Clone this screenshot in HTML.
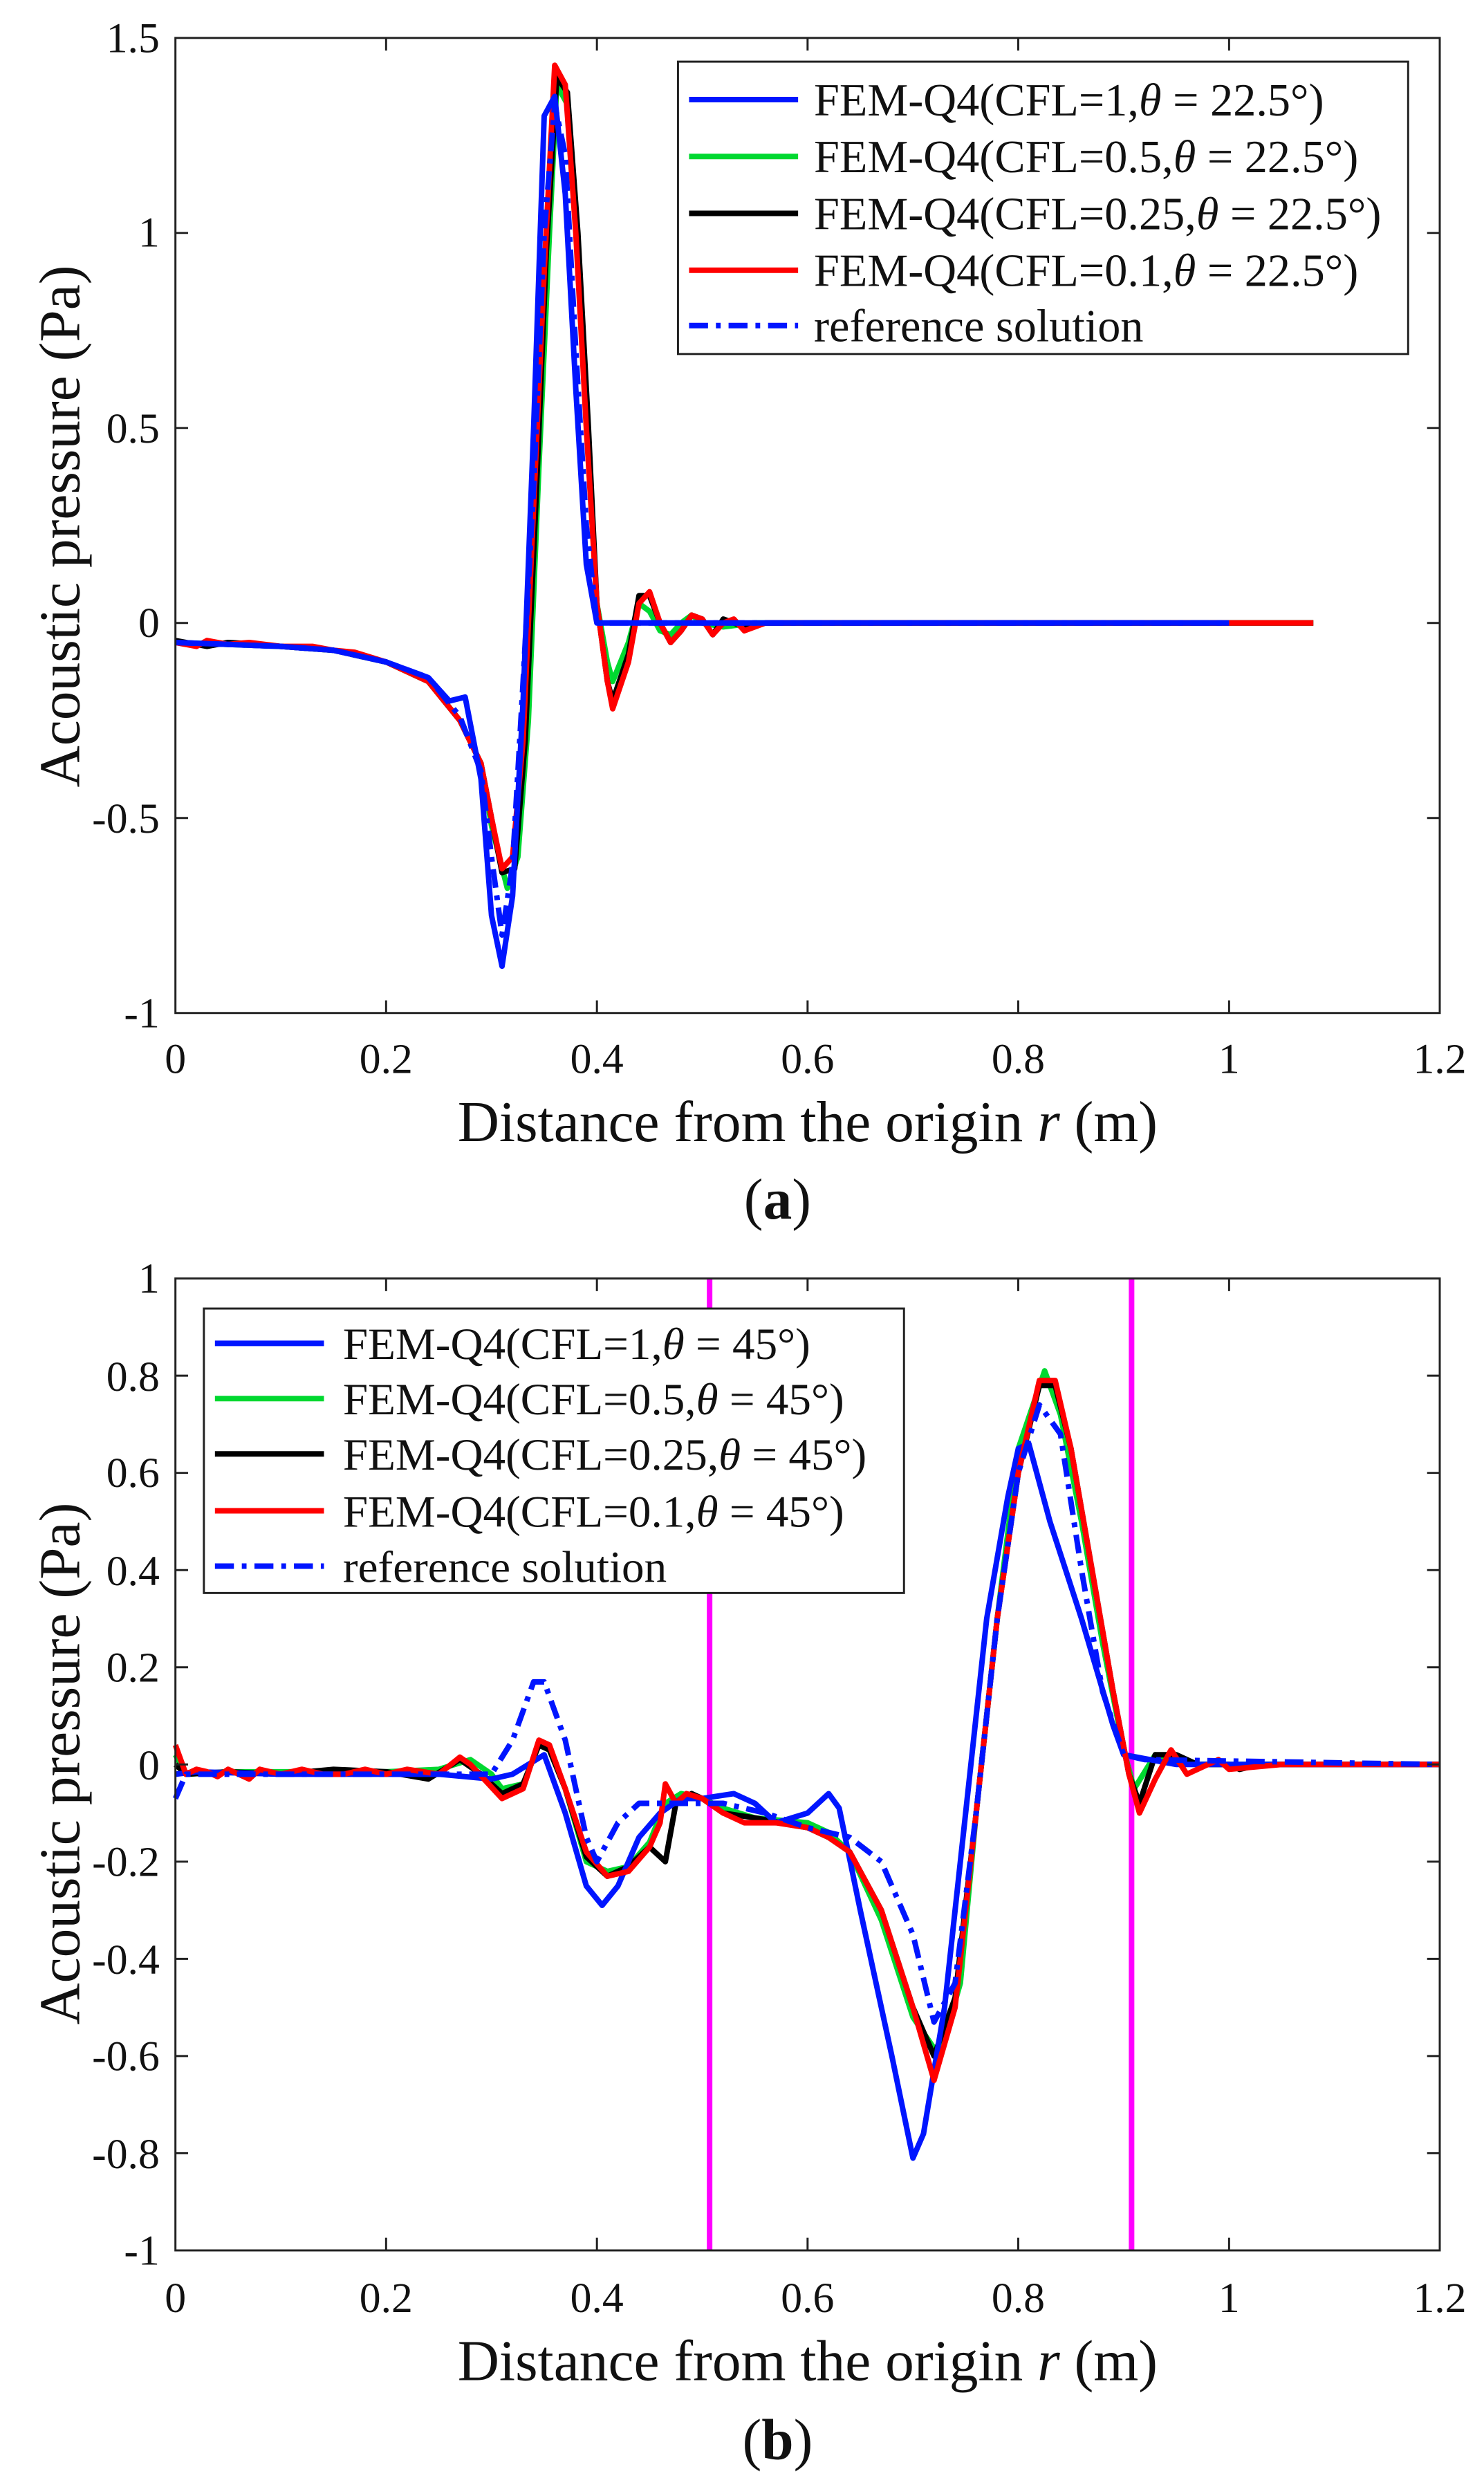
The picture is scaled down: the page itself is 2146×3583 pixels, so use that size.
<!DOCTYPE html>
<html><head><meta charset="utf-8"><style>html,body{margin:0;padding:0;background:#fff}svg{display:block}text{font-family:"Liberation Serif","DejaVu Serif",serif;fill:#111}</style></head>
<body>
<svg width="2146" height="3583" viewBox="0 0 939 1568" preserveAspectRatio="none" xmlns="http://www.w3.org/2000/svg">
<rect width="939" height="1568" fill="#fff"/>
<!-- ============ PLOT A ============ -->
<g fill="none" stroke-linejoin="round" stroke-linecap="butt">
<g transform="translate(111,394.2) scale(666.667,-246.8)">
<polyline vector-effect="non-scaling-stroke" stroke="#00d830" stroke-width="8" points="0,-0.05 0.05,-0.055 0.1,-0.06 0.15,-0.07 0.2,-0.1 0.24,-0.15 0.27,-0.25 0.29,-0.36 0.3,-0.52 0.315,-0.68 0.325,-0.6 0.335,-0.25 0.345,0.4 0.355,1.0 0.362,1.38 0.372,1.33 0.382,0.95 0.392,0.45 0.4,0.05 0.41,-0.1 0.415,-0.15 0.43,-0.05 0.44,0.05 0.45,0.03 0.46,-0.02 0.47,-0.03 0.48,0 0.49,0.02 0.5,0 0.52,-0.01 0.55,0 0.6,0 1.08,0"/>
<polyline vector-effect="non-scaling-stroke" stroke="#000" stroke-width="8" points="0,-0.045 0.03,-0.06 0.05,-0.05 0.08,-0.055 0.1,-0.06 0.15,-0.07 0.2,-0.1 0.24,-0.15 0.27,-0.25 0.29,-0.36 0.3,-0.5 0.31,-0.64 0.322,-0.63 0.332,-0.3 0.342,0.3 0.352,0.95 0.362,1.4 0.372,1.36 0.382,1.0 0.392,0.5 0.4,0.05 0.41,-0.15 0.415,-0.2 0.43,-0.08 0.44,0.07 0.45,0.07 0.46,0 0.47,-0.05 0.48,-0.02 0.49,0.02 0.5,0.01 0.51,-0.03 0.52,0.01 0.54,-0.01 0.56,0 0.6,0 1.08,0"/>
<polyline vector-effect="non-scaling-stroke" stroke="#f00" stroke-width="8" points="0,-0.05 0.02,-0.06 0.03,-0.045 0.05,-0.055 0.07,-0.05 0.1,-0.06 0.13,-0.06 0.15,-0.07 0.17,-0.075 0.2,-0.1 0.24,-0.15 0.27,-0.25 0.29,-0.36 0.3,-0.5 0.31,-0.63 0.32,-0.6 0.33,-0.3 0.34,0.3 0.35,0.9 0.36,1.43 0.37,1.38 0.38,1.0 0.39,0.5 0.4,0.05 0.41,-0.15 0.415,-0.22 0.43,-0.1 0.44,0.05 0.45,0.08 0.46,0 0.47,-0.05 0.48,-0.02 0.49,0.02 0.5,0.01 0.51,-0.03 0.52,0 0.53,0.01 0.54,-0.02 0.56,0 0.58,0 1.08,0"/>
<polyline vector-effect="non-scaling-stroke" stroke="#0015ff" stroke-width="8" points="0,-0.05 0.05,-0.055 0.1,-0.06 0.15,-0.07 0.2,-0.1 0.24,-0.14 0.26,-0.2 0.275,-0.19 0.29,-0.4 0.3,-0.75 0.31,-0.88 0.32,-0.7 0.33,-0.2 0.34,0.5 0.35,1.3 0.36,1.35 0.37,1.1 0.38,0.6 0.39,0.15 0.4,0 1.0,0"/>
<polyline vector-effect="non-scaling-stroke" stroke="#0015ff" stroke-width="8" stroke-dasharray="27,11,7,11" points="0,-0.05 0.05,-0.055 0.1,-0.06 0.15,-0.07 0.2,-0.1 0.24,-0.14 0.27,-0.24 0.29,-0.38 0.3,-0.6 0.31,-0.8 0.32,-0.62 0.33,-0.15 0.34,0.35 0.35,1.0 0.36,1.33 0.37,1.2 0.38,0.7 0.39,0.25 0.4,0 1.0,0"/>
</g>
</g>
<!-- axes A -->
<g stroke="#222" stroke-width="1.3" fill="none">
<rect x="111" y="24" width="800" height="617"/>
<path d="M244.3,641v-8M377.7,641v-8M511,641v-8M644.3,641v-8M777.7,641v-8M244.3,24v8M377.7,24v8M511,24v8M644.3,24v8M777.7,24v8
M111,147.4h8M111,270.8h8M111,394.2h8M111,517.6h8M911,147.4h-8M911,270.8h-8M911,394.2h-8M911,517.6h-8"/>
</g>
<g font-size="27" text-anchor="end">
<text x="101" y="33">1.5</text><text x="101" y="156">1</text><text x="101" y="280">0.5</text><text x="101" y="403">0</text><text x="101" y="527">-0.5</text><text x="101" y="650">-1</text>
</g>
<g font-size="27" text-anchor="middle">
<text x="111" y="679">0</text><text x="244.3" y="679">0.2</text><text x="377.7" y="679">0.4</text><text x="511" y="679">0.6</text><text x="644.3" y="679">0.8</text><text x="777.7" y="679">1</text><text x="911" y="679">1.2</text>
</g>
<text x="511" y="722" font-size="36.5" text-anchor="middle">Distance from the origin <tspan font-style="italic">r</tspan> (m)</text>
<text x="492" y="771" font-size="36.5" text-anchor="middle">(<tspan font-weight="bold">a</tspan>)</text>
<text transform="translate(50,333) rotate(-90)" font-size="36.5" text-anchor="middle">Acoustic pressure (Pa)</text>
<!-- legend A -->
<rect x="429" y="39" width="462" height="185" fill="#fff" stroke="#222" stroke-width="1.3"/>
<g stroke-width="3.5">
<line x1="436" y1="63" x2="505" y2="63" stroke="#0015ff"/>
<line x1="436" y1="99" x2="505" y2="99" stroke="#00d830"/>
<line x1="436" y1="135" x2="505" y2="135" stroke="#000"/>
<line x1="436" y1="171" x2="505" y2="171" stroke="#f00"/>
<line x1="436" y1="206" x2="505" y2="206" stroke="#0015ff" stroke-dasharray="12,5,3,5"/>
</g>
<g font-size="29">
<text x="515" y="73">FEM-Q4(CFL=1,<tspan font-style="italic">θ</tspan> = 22.5°)</text>
<text x="515" y="109">FEM-Q4(CFL=0.5,<tspan font-style="italic">θ</tspan> = 22.5°)</text>
<text x="515" y="145">FEM-Q4(CFL=0.25,<tspan font-style="italic">θ</tspan> = 22.5°)</text>
<text x="515" y="181">FEM-Q4(CFL=0.1,<tspan font-style="italic">θ</tspan> = 22.5°)</text>
<text x="515" y="216">reference solution</text>
</g>

<!-- ============ PLOT B ============ -->
<g fill="none" stroke-linejoin="round">
<line x1="449" y1="809" x2="449" y2="1424" stroke="#ff00ff" stroke-width="3.5"/>
<line x1="716" y1="809" x2="716" y2="1424" stroke="#ff00ff" stroke-width="3.5"/>
<g transform="translate(111,1116.5) scale(666.667,-307.5)">
<polyline vector-effect="non-scaling-stroke" stroke="#00d830" stroke-width="8" points="0,0.02 0.01,-0.02 0.05,-0.015 0.1,-0.015 0.2,-0.015 0.25,-0.01 0.28,0.01 0.3,-0.02 0.31,-0.05 0.33,-0.04 0.345,0.04 0.355,0.03 0.37,-0.05 0.39,-0.2 0.41,-0.22 0.43,-0.21 0.45,-0.16 0.465,-0.08 0.48,-0.06 0.5,-0.07 0.52,-0.09 0.55,-0.11 0.6,-0.12 0.62,-0.14 0.64,-0.18 0.67,-0.32 0.7,-0.52 0.725,-0.6 0.745,-0.45 0.76,-0.1 0.78,0.3 0.8,0.65 0.825,0.81 0.84,0.72 0.86,0.5 0.88,0.25 0.9,0.03 0.91,-0.05 0.93,0.02 0.95,0.01 0.97,0 1.2,0"/>
<polyline vector-effect="non-scaling-stroke" stroke="#000" stroke-width="8" points="0,0 0.01,-0.02 0.05,-0.015 0.1,-0.02 0.15,-0.01 0.2,-0.015 0.24,-0.03 0.27,0.01 0.29,-0.02 0.31,-0.06 0.33,-0.04 0.345,0.04 0.355,0.03 0.37,-0.05 0.39,-0.19 0.41,-0.23 0.43,-0.21 0.45,-0.17 0.465,-0.2 0.475,-0.08 0.49,-0.06 0.5,-0.07 0.52,-0.1 0.55,-0.11 0.6,-0.13 0.62,-0.15 0.64,-0.18 0.67,-0.3 0.7,-0.5 0.72,-0.6 0.74,-0.48 0.76,-0.1 0.78,0.3 0.8,0.6 0.82,0.78 0.835,0.78 0.85,0.65 0.87,0.4 0.89,0.15 0.905,-0.02 0.915,-0.08 0.93,0.02 0.95,0.02 0.97,0 1.0,0 1.01,-0.01 1.03,0 1.2,0"/>
<polyline vector-effect="non-scaling-stroke" stroke="#0015ff" stroke-width="8" points="0,-0.02 0.02,-0.015 0.1,-0.02 0.2,-0.02 0.25,-0.02 0.3,-0.03 0.32,-0.02 0.35,0.02 0.37,-0.1 0.39,-0.25 0.405,-0.29 0.42,-0.25 0.44,-0.15 0.46,-0.1 0.48,-0.07 0.5,-0.07 0.53,-0.06 0.55,-0.08 0.57,-0.12 0.6,-0.1 0.62,-0.06 0.63,-0.09 0.65,-0.3 0.68,-0.6 0.7,-0.81 0.71,-0.76 0.73,-0.5 0.75,-0.1 0.77,0.3 0.79,0.55 0.8,0.65 0.81,0.66 0.83,0.5 0.86,0.3 0.89,0.08 0.9,0.02 0.95,0 1.2,0"/>
<polyline vector-effect="non-scaling-stroke" stroke="#f00" stroke-width="8" points="0,0.04 0.01,-0.02 0.02,-0.01 0.03,-0.015 0.04,-0.025 0.05,-0.01 0.06,-0.02 0.07,-0.03 0.08,-0.01 0.1,-0.02 0.12,-0.01 0.14,-0.02 0.16,-0.02 0.18,-0.01 0.2,-0.02 0.22,-0.01 0.25,-0.02 0.27,0.015 0.28,0 0.31,-0.07 0.33,-0.05 0.345,0.05 0.355,0.04 0.37,-0.05 0.39,-0.18 0.41,-0.23 0.43,-0.22 0.45,-0.17 0.46,-0.12 0.465,-0.04 0.475,-0.08 0.485,-0.06 0.5,-0.07 0.52,-0.1 0.54,-0.12 0.57,-0.12 0.6,-0.13 0.62,-0.15 0.64,-0.18 0.67,-0.3 0.7,-0.5 0.72,-0.65 0.74,-0.5 0.76,-0.1 0.78,0.3 0.8,0.6 0.82,0.79 0.835,0.79 0.85,0.65 0.87,0.4 0.89,0.15 0.905,-0.02 0.915,-0.1 0.93,-0.03 0.945,0.03 0.96,-0.02 0.98,0 0.99,0.01 1.0,-0.01 1.05,0 1.2,0"/>
<polyline vector-effect="non-scaling-stroke" stroke="#0015ff" stroke-width="8" stroke-dasharray="27,11,7,11" points="0,-0.07 0.01,-0.02 0.1,-0.02 0.2,-0.02 0.3,-0.02 0.32,0.05 0.34,0.17 0.35,0.17 0.37,0.05 0.39,-0.15 0.4,-0.2 0.42,-0.12 0.44,-0.08 0.48,-0.08 0.52,-0.08 0.56,-0.1 0.6,-0.13 0.64,-0.15 0.67,-0.2 0.7,-0.35 0.72,-0.53 0.74,-0.45 0.76,-0.1 0.78,0.3 0.8,0.6 0.82,0.74 0.84,0.68 0.86,0.4 0.88,0.15 0.9,0.02 0.92,0.01 1.2,0"/>
</g>
</g>
<g stroke="#222" stroke-width="1.3" fill="none">
<rect x="111" y="809" width="800" height="615"/>
<path d="M244.3,1424v-8M377.7,1424v-8M511,1424v-8M644.3,1424v-8M777.7,1424v-8M244.3,809v8M377.7,809v8M511,809v8M644.3,809v8M777.7,809v8
M111,870.5h8M111,932h8M111,993.5h8M111,1055h8M111,1116.5h8M111,1178h8M111,1239.5h8M111,1301h8M111,1362.5h8
M911,870.5h-8M911,932h-8M911,993.5h-8M911,1055h-8M911,1116.5h-8M911,1178h-8M911,1239.5h-8M911,1301h-8M911,1362.5h-8"/>
</g>
<g font-size="27" text-anchor="end">
<text x="101" y="818">1</text><text x="101" y="880">0.8</text><text x="101" y="941">0.6</text><text x="101" y="1003">0.4</text><text x="101" y="1064">0.2</text><text x="101" y="1126">0</text><text x="101" y="1187">-0.2</text><text x="101" y="1249">-0.4</text><text x="101" y="1310">-0.6</text><text x="101" y="1372">-0.8</text><text x="101" y="1433">-1</text>
</g>
<g font-size="27" text-anchor="middle">
<text x="111" y="1463">0</text><text x="244.3" y="1463">0.2</text><text x="377.7" y="1463">0.4</text><text x="511" y="1463">0.6</text><text x="644.3" y="1463">0.8</text><text x="777.7" y="1463">1</text><text x="911" y="1463">1.2</text>
</g>
<text x="511" y="1506" font-size="36.5" text-anchor="middle">Distance from the origin <tspan font-style="italic">r</tspan> (m)</text>
<text x="492" y="1556" font-size="36.5" text-anchor="middle">(<tspan font-weight="bold">b</tspan>)</text>
<text transform="translate(50,1116) rotate(-90)" font-size="36.5" text-anchor="middle">Acoustic pressure (Pa)</text>
<rect x="129" y="828" width="443" height="180" fill="#fff" stroke="#222" stroke-width="1.3"/>
<g stroke-width="3.5">
<line x1="136" y1="850" x2="205" y2="850" stroke="#0015ff"/>
<line x1="136" y1="885" x2="205" y2="885" stroke="#00d830"/>
<line x1="136" y1="920" x2="205" y2="920" stroke="#000"/>
<line x1="136" y1="956" x2="205" y2="956" stroke="#f00"/>
<line x1="136" y1="991" x2="205" y2="991" stroke="#0015ff" stroke-dasharray="12,5,3,5"/>
</g>
<g font-size="28.5">
<text x="217" y="860">FEM-Q4(CFL=1,<tspan font-style="italic">θ</tspan> = 45°)</text>
<text x="217" y="895">FEM-Q4(CFL=0.5,<tspan font-style="italic">θ</tspan> = 45°)</text>
<text x="217" y="930">FEM-Q4(CFL=0.25,<tspan font-style="italic">θ</tspan> = 45°)</text>
<text x="217" y="966">FEM-Q4(CFL=0.1,<tspan font-style="italic">θ</tspan> = 45°)</text>
<text x="217" y="1001">reference solution</text>
</g>
</svg>
</body></html>
